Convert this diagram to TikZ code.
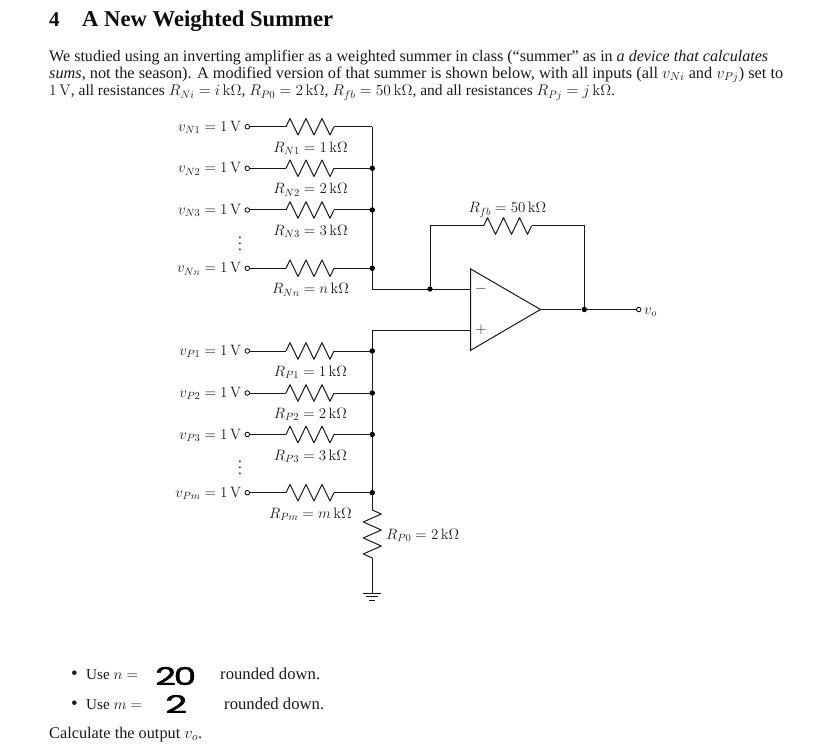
\documentclass[tikz,border=0pt]{standalone}
\usepackage{fix-cm}
\usepackage{amsmath}
\usepackage{graphicx}
\usepackage[no-math]{fontspec}
\setmainfont{Liberation Serif}
\newfontfamily\handfont[FakeBold=1.5]{Poppins}
\usetikzlibrary{calc}
\newcommand{\kO}{\,\mathrm{k\Omega}}
\newcommand{\oneV}{1\,\mathrm{V}}
\newcommand{\fitline}[2]{\resizebox{#1pt}{!}{#2}}
\newcommand{\tallDots}{\vbox{\baselineskip=6pt\lineskiplimit=0pt\hbox{.}\hbox{.}\hbox{.}}}
\tikzset{
  wire/.style={line width=1pt,black!90},
  term/.style={circle,draw,line width=0.8pt,fill=white,inner sep=0pt,minimum size=4.6pt},
  jdot/.style={circle,fill=black,inner sep=0pt,minimum size=5.4pt},
  lab/.style={inner sep=0pt,font=\fontsize{15}{17}\selectfont,text=black!90},
  dotslab/.style={inner sep=0pt,font=\fontsize{15}{15}\selectfont,text=black!90},
  body/.style={inner sep=0pt,anchor=base west,font=\fontsize{15}{18}\selectfont,text=black!90},
  head/.style={inner sep=0pt,anchor=base west,font=\fontsize{21}{24}\selectfont\bfseries,text=black!95},
  hand/.style={inner sep=0pt,font=\fontsize{25}{28}\selectfont\handfont,text=black},
  resH/.pic={
    \coordinate (-a) at (0,0);
    \coordinate (-b) at (48,0);
    \draw[wire,line join=round] (-a) -- (4,-8.3) -- (12,8.3) -- (20,-8.3) -- (28,8.3) -- (36,-8.3) -- (44,8.3) -- (-b);
  },
  resV/.pic={
    \coordinate (-a) at (0,0);
    \coordinate (-b) at (0,48);
    \draw[wire,line join=round] (-a) -- (9,4) -- (-9,12) -- (9,20) -- (-9,28) -- (9,36) -- (-9,44) -- (-b);
  }
}
\newcommand{\inrow}[4]{%
  \node[term] (#1t) at (247.3,#2) {};
  \node[lab,anchor=base east] (#1v) at (241.5,#2+4.5) {$#3=\oneV$};
  \pic (#1r) at (286,#2) {resH};
  \coordinate (#1j) at (372.3,#2);
  \draw[wire] (#1t) -- (#1r-a);
  \draw[wire] (#1r-b) -- (#1j);
  \node[lab,anchor=base] (#1l) at (310.5,#2+25.5) {$#4$};
}
\begin{document}
\begin{tikzpicture}[x=1pt,y=-1pt]
\useasboundingbox (0,0) rectangle (831,749);
% text
\node[head] (hnum) at (49,27) {4};
\node[head] (htitle) at (82,27) {\fitline{251}{A New Weighted Summer}};
\node[body] (p1) at (49,61.5) {\fitline{719}{We studied using an inverting amplifier as a weighted summer in class (“summer” as in \textit{a device that calculates}}};
\node[body] (p2) at (49,78.5) {\fitline{734}{\textit{sums}, not the season). A modified version of that summer is shown below, with all inputs (all $v_{Ni}$ and $v_{Pj}$) set to}};
\node[body] (p3) at (49,96) {\fitline{566}{$\oneV$, all resistances $R_{Ni}=i\kO$, $R_{P0}=2\kO$, $R_{fb}=50\kO$, and all resistances $R_{Pj}=j\kO$.}};
% negative inputs
\inrow{na}{126.7}{v_{N1}}{R_{N1}=1\kO}
\inrow{nb}{168.3}{v_{N2}}{R_{N2}=2\kO}
\inrow{nc}{210}{v_{N3}}{R_{N3}=3\kO}
\inrow{nn}{268.3}{v_{Nn}}{R_{Nn}=n\kO}
\node[dotslab,anchor=base] (ndots) at (240,251) {\smash{\tallDots}};
% positive inputs
\inrow{pa}{351}{v_{P1}}{R_{P1}=1\kO}
\inrow{pb}{393}{v_{P2}}{R_{P2}=2\kO}
\inrow{pc}{434.5}{v_{P3}}{R_{P3}=3\kO}
\inrow{pm}{492.7}{v_{Pm}}{R_{Pm}=m\kO}
\node[dotslab,anchor=base] (pdots) at (240,474) {\smash{\tallDots}};
% op amp
\coordinate (oTop) at (470.7,269);
\coordinate (oBot) at (470.7,350.3);
\coordinate (oTip) at (540.5,309.5);
\coordinate (oMinus) at (470.7,289);
\coordinate (oPlus) at (470.7,330);
\draw[wire,line join=miter] (oTop) -- (oTip) -- (oBot) -- cycle;
\node[lab] (mns) at (481,289) {$-$};
\node[lab] (pls) at (481,330) {$+$};
% buses
\coordinate (nBot) at (372.3,289);
\coordinate (pTop) at (372.3,330);
\draw[wire] (naj) -- (nBot) -- (oMinus);
\draw[wire] (pTop) -- (oPlus);
\draw[wire] (pTop) -- (pmj);
\foreach \j in {nbj,ncj,nnj,paj,pbj,pcj,pmj}{\node[jdot] at (\j) {};}
% feedback
\node[jdot] (fbL) at (430,289) {};
\node[jdot] (fbR) at (584.3,309.5) {};
\coordinate (fbLT) at (430,226);
\coordinate (fbRT) at (584.3,226);
\pic (rf) at (483.5,226) {resH};
\draw[wire] (fbL) -- (fbLT) -- (rf-a);
\draw[wire] (rf-b) -- (fbRT) -- (fbR);
\node[lab,anchor=base] (rfl) at (507.5,213) {$R_{fb}=50\kO$};
% output
\node[term] (out) at (638.7,309.5) {};
\draw[wire] (oTip) -- (fbR) -- (out);
\node[lab,anchor=base west] (vo) at (644,314) {$v_o$};
% shunt resistor and ground
\pic (rp) at (372.3,510) {resV};
\coordinate (gnd) at (372.3,593.3);
\draw[wire] (pmj) -- (rp-a);
\draw[wire] (rp-b) -- (gnd);
\draw[wire] (363.3,593.3) -- (381.3,593.3);
\draw[wire] (366.3,596.8) -- (378.3,596.8);
\draw[wire] (369.3,600.3) -- (375.3,600.3);
\node[lab,anchor=base west] (rpl) at (386,539) {$R_{P0}=2\kO$};
% questions
\node[body] (b1) at (71,679.5) {\fontsize{19}{19}\selectfont\textbullet};
\node[body] (u1) at (86,679.5) {\fitline{52}{Use $n=$}};
\node[hand,anchor=base west] (v1) at (155,685) {\resizebox{41pt}{18pt}{2\kern-1.5pt0}};
\node[body] (r1) at (220,679.5) {\fitline{100}{rounded down.}};
\node[body] (b2) at (71,709) {\fontsize{19}{19}\selectfont\textbullet};
\node[body] (u2) at (86,709) {\fitline{56}{Use $m=$}};
\node[hand,anchor=base west] (v2) at (165,713) {\resizebox{22pt}{18pt}{2}};
\node[body] (r2) at (224,709) {\fitline{100}{rounded down.}};
\node[body] (c) at (49,738) {\fitline{153}{Calculate the output $v_o$.}};
\end{tikzpicture}
\end{document}
